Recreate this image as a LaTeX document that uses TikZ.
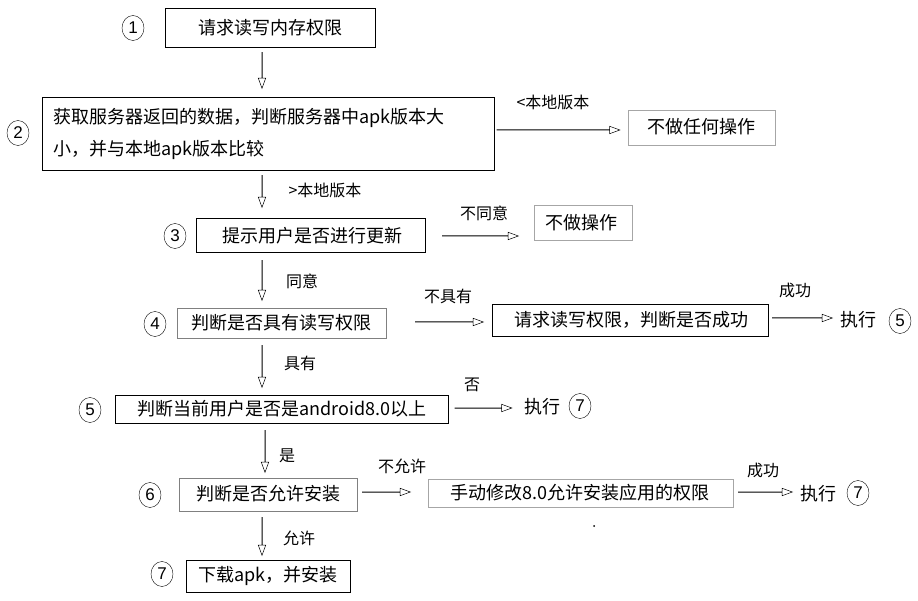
\documentclass[tikz,border=0pt]{standalone}
\usepackage{fontspec}
\setmainfont{Noto Sans CJK SC}
\usetikzlibrary{shapes.arrows,shapes.geometric}
\tikzset{
  box/.style={draw,line width=0.9pt,inner sep=0pt,anchor=north west},
  gbox/.style={box,draw=gray!70},
  lbl/.style={inner sep=1pt,font=\fontsize{16}{19}\selectfont},
  num/.style={draw,ellipse,inner sep=0pt,minimum width=22pt,minimum height=25pt,font=\fontsize{17}{20}\selectfont\fontspec{Liberation Sans}},
  blk/.style={single arrow,draw,line width=0.5pt,inner sep=0pt,minimum width=6pt,single arrow head extend=3.5pt,single arrow tip angle=40},
  vblk/.style={blk,shape border rotate=270}
}
\begin{document}
\begin{tikzpicture}[x=1pt,y=-1pt,font=\fontsize{18}{26}\selectfont]
\useasboundingbox (0,0) rectangle (918,601);
% boxes
\node[box,minimum width=210pt,minimum height=39pt] (b1) at (165,8) {};
\node at (270,28) {请求读写内存权限};
\node[box,minimum width=452pt,minimum height=73pt] (b2) at (42,97) {};
\node[anchor=west] at (50,118) {获取服务器返回的数据，判断服务器中apk版本大};
\node[anchor=west] at (50,150) {小，并与本地apk版本比较};
\node[gbox,minimum width=147pt,minimum height=35pt] (b2r) at (628,110) {};
\node at (701,127) {不做任何操作};
\node[box,minimum width=229pt,minimum height=34pt] (b3) at (196,218) {};
\node at (312,236) {提示用户是否进行更新};
\node[gbox,minimum width=98pt,minimum height=35pt] (b3r) at (534,205) {};
\node at (581,223) {不做操作};
\node[box,draw=gray,minimum width=209pt,minimum height=30pt] (b4) at (177,308) {};
\node at (281,323) {判断是否具有读写权限};
\node[box,minimum width=276pt,minimum height=32pt] (b4r) at (492,304) {};
\node at (631,320) {请求读写权限，判断是否成功};
\node[box,minimum width=333pt,minimum height=28pt] (b5) at (115,395) {};
\node at (282,409) {判断当前用户是否是android8.0以上};
\node[box,draw=gray,minimum width=178pt,minimum height=33pt] (b6) at (179,478) {};
\node at (268,494) {判断是否允许安装};
\node[gbox,minimum width=305pt,minimum height=28pt] (b6r) at (428,479) {};
\node at (580,493) {手动修改8.0允许安装应用的权限};
\node[box,minimum width=164pt,minimum height=32pt] (b7) at (186,560) {};
\node at (268,576) {下载apk，并安装};
% numbers
\node[num] (n1) at (133,28) {1};
\node[num] (n2) at (18,133) {2};
\node[num] (n3) at (175,236) {3};
\node[num] (n4) at (155,324) {4};
\node[num] (n5) at (90,410) {5};
\node[num] (n6) at (150,495) {6};
\node[num] (n7) at (162,574) {7};
\node (e1) at (858,320) {执行};
\node[num] (n5b) at (900,321) {5};
\node (e2) at (542,407) {执行};
\node[num] (n7b) at (580,406) {7};
\node (e3) at (818,494) {执行};
\node[num] (n7c) at (858,493) {7};
% arrows
\node[vblk,minimum height=36pt] (a1) at (262,70) {};
\node[blk,minimum height=123pt] (a2) at (558,130) {};
\node[vblk,minimum height=32pt] (a3) at (262,191) {};
\node[blk,minimum height=76pt] (a4) at (480,236) {};
\node[vblk,minimum height=40pt] (a5) at (262,280) {};
\node[blk,minimum height=68pt] (a6) at (449,322) {};
\node[blk,minimum height=60pt] (a7) at (802,318) {};
\node[vblk,minimum height=42pt] (a8) at (262,366) {};
\node[blk,minimum height=57pt] (a9) at (483,408) {};
\node[vblk,minimum height=42pt] (a10) at (265,451) {};
\node[blk,minimum height=48pt] (a11) at (386,492) {};
\node[blk,minimum height=54pt] (a12) at (765,492) {};
\node[vblk,minimum height=38pt] (a13) at (262,536) {};
% labels
\node[lbl] at (553,102) {<本地版本};
\node[lbl] at (325,190) {>本地版本};
\node[lbl] at (484,213) {不同意};
\node[lbl] at (302,281) {同意};
\node[lbl] at (448,296) {不具有};
\node[lbl] at (795,290) {成功};
\node[lbl] at (300,363) {具有};
\node[lbl] at (472,385) {否};
\node[lbl] at (287,456) {是};
\node[lbl] at (402,466) {不允许};
\node[lbl] at (763,470) {成功};
\node[lbl] at (299,538) {允许};
\fill (594,526) circle (1pt);
\end{tikzpicture}
\end{document}
